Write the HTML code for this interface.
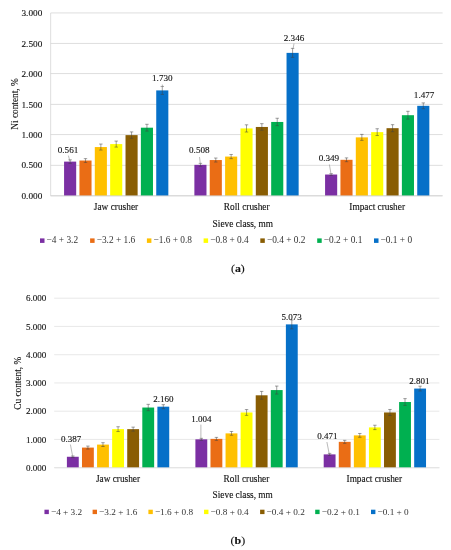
<!DOCTYPE html>
<html><head><meta charset="utf-8"><title>Ni and Cu content by sieve class</title>
<style>
html,body{margin:0;padding:0;background:#fff;}
svg{display:block;font-family:"Liberation Serif","Times New Roman",serif;fill:#111;}
text{stroke:#111;stroke-width:0.12px;}
text.lg{fill:#333;stroke:none;}
</style></head><body>
<svg width="451" height="550" viewBox="0 0 451 550">
<rect width="451" height="550" fill="#fff"/>
<g>
<line x1="50.65" y1="195.80" x2="442.6" y2="195.80" stroke="#d0d0d0" stroke-width="0.7"/>
<text x="42.3" y="198.90" font-size="9.25" text-anchor="end">0.000</text>
<line x1="50.65" y1="165.35" x2="442.6" y2="165.35" stroke="#d0d0d0" stroke-width="0.7"/>
<text x="42.3" y="168.45" font-size="9.25" text-anchor="end">0.500</text>
<line x1="50.65" y1="134.55" x2="442.6" y2="134.55" stroke="#d0d0d0" stroke-width="0.7"/>
<text x="42.3" y="137.65" font-size="9.25" text-anchor="end">1.000</text>
<line x1="50.65" y1="104.40" x2="442.6" y2="104.40" stroke="#d0d0d0" stroke-width="0.7"/>
<text x="42.3" y="107.50" font-size="9.25" text-anchor="end">1.500</text>
<line x1="50.65" y1="73.55" x2="442.6" y2="73.55" stroke="#d0d0d0" stroke-width="0.7"/>
<text x="42.3" y="76.65" font-size="9.25" text-anchor="end">2.000</text>
<line x1="50.65" y1="43.45" x2="442.6" y2="43.45" stroke="#d0d0d0" stroke-width="0.7"/>
<text x="42.3" y="46.55" font-size="9.25" text-anchor="end">2.500</text>
<line x1="50.65" y1="12.95" x2="442.6" y2="12.95" stroke="#d0d0d0" stroke-width="0.7"/>
<text x="42.3" y="16.05" font-size="9.25" text-anchor="end">3.000</text>
<line x1="50.65" y1="13.04" x2="50.65" y2="195.8" stroke="#d0d0d0" stroke-width="0.7"/>
<rect x="64.08" y="161.62" width="12.1" height="34.18" fill="#7B2FA3"/>
<path d="M70.13 159.82V163.42M68.43 159.82h3.4M68.43 163.42h3.4" stroke="#404040" stroke-width="0.5" fill="none"/>
<rect x="79.44" y="160.53" width="12.1" height="35.27" fill="#EA6D15"/>
<path d="M85.49 158.63V162.43M83.79 158.63h3.4M83.79 162.43h3.4" stroke="#404040" stroke-width="0.5" fill="none"/>
<rect x="94.80" y="147.06" width="12.1" height="48.74" fill="#FFC000"/>
<path d="M100.85 144.06V150.06M99.15 144.06h3.4M99.15 150.06h3.4" stroke="#404040" stroke-width="0.5" fill="none"/>
<rect x="110.16" y="144.08" width="12.1" height="51.72" fill="#FFFF00"/>
<path d="M116.21 141.08V147.08M114.51 141.08h3.4M114.51 147.08h3.4" stroke="#404040" stroke-width="0.5" fill="none"/>
<rect x="125.52" y="135.12" width="12.1" height="60.68" fill="#895D03"/>
<path d="M131.57 131.92V138.32M129.87 131.92h3.4M129.87 138.32h3.4" stroke="#404040" stroke-width="0.5" fill="none"/>
<rect x="140.88" y="127.69" width="12.1" height="68.11" fill="#00B050"/>
<path d="M146.93 124.29V131.09M145.23 124.29h3.4M145.23 131.09h3.4" stroke="#404040" stroke-width="0.5" fill="none"/>
<rect x="156.24" y="90.41" width="12.1" height="105.39" fill="#0670C8"/>
<path d="M162.29 86.41V94.41M160.59 86.41h3.4M160.59 94.41h3.4" stroke="#404040" stroke-width="0.5" fill="none"/>
<rect x="194.38" y="164.85" width="12.1" height="30.95" fill="#7B2FA3"/>
<path d="M200.43 163.35V166.35M198.73 163.35h3.4M198.73 166.35h3.4" stroke="#404040" stroke-width="0.5" fill="none"/>
<rect x="209.74" y="160.04" width="12.1" height="35.76" fill="#EA6D15"/>
<path d="M215.79 158.04V162.04M214.09 158.04h3.4M214.09 162.04h3.4" stroke="#404040" stroke-width="0.5" fill="none"/>
<rect x="225.10" y="156.57" width="12.1" height="39.23" fill="#FFC000"/>
<path d="M231.15 154.47V158.67M229.45 154.47h3.4M229.45 158.67h3.4" stroke="#404040" stroke-width="0.5" fill="none"/>
<rect x="240.46" y="128.42" width="12.1" height="67.38" fill="#FFFF00"/>
<path d="M246.51 124.82V132.02M244.81 124.82h3.4M244.81 132.02h3.4" stroke="#404040" stroke-width="0.5" fill="none"/>
<rect x="255.82" y="126.96" width="12.1" height="68.84" fill="#895D03"/>
<path d="M261.87 123.66V130.26M260.17 123.66h3.4M260.17 130.26h3.4" stroke="#404040" stroke-width="0.5" fill="none"/>
<rect x="271.18" y="121.96" width="12.1" height="73.84" fill="#00B050"/>
<path d="M277.23 118.26V125.66M275.53 118.26h3.4M275.53 125.66h3.4" stroke="#404040" stroke-width="0.5" fill="none"/>
<rect x="286.54" y="52.88" width="12.1" height="142.92" fill="#0670C8"/>
<path d="M292.59 48.38V57.38M290.89 48.38h3.4M290.89 57.38h3.4" stroke="#404040" stroke-width="0.5" fill="none"/>
<rect x="325.08" y="174.54" width="12.1" height="21.26" fill="#7B2FA3"/>
<path d="M331.13 173.64V175.44M329.43 173.64h3.4M329.43 175.44h3.4" stroke="#404040" stroke-width="0.5" fill="none"/>
<rect x="340.44" y="159.80" width="12.1" height="36.00" fill="#EA6D15"/>
<path d="M346.49 157.90V161.70M344.79 157.90h3.4M344.79 161.70h3.4" stroke="#404040" stroke-width="0.5" fill="none"/>
<rect x="355.80" y="137.38" width="12.1" height="58.42" fill="#FFC000"/>
<path d="M361.85 134.38V140.38M360.15 134.38h3.4M360.15 140.38h3.4" stroke="#404040" stroke-width="0.5" fill="none"/>
<rect x="371.16" y="132.14" width="12.1" height="63.66" fill="#FFFF00"/>
<path d="M377.21 128.74V135.54M375.51 128.74h3.4M375.51 135.54h3.4" stroke="#404040" stroke-width="0.5" fill="none"/>
<rect x="386.52" y="128.18" width="12.1" height="67.62" fill="#895D03"/>
<path d="M392.57 124.68V131.68M390.87 124.68h3.4M390.87 131.68h3.4" stroke="#404040" stroke-width="0.5" fill="none"/>
<rect x="401.88" y="115.20" width="12.1" height="80.60" fill="#00B050"/>
<path d="M407.93 111.30V119.10M406.23 111.30h3.4M406.23 119.10h3.4" stroke="#404040" stroke-width="0.5" fill="none"/>
<rect x="417.24" y="105.82" width="12.1" height="89.98" fill="#0670C8"/>
<path d="M423.29 102.92V108.72M421.59 102.92h3.4M421.59 108.72h3.4" stroke="#404040" stroke-width="0.5" fill="none"/>
<line x1="50.65" y1="195.8" x2="442.6" y2="195.8" stroke="#d0d0d0" stroke-width="0.7"/>
<text x="68.0" y="152.6" font-size="9.15" text-anchor="middle">0.561</text>
<line x1="68.4" y1="155.6" x2="69.9" y2="161.0" stroke="#8c8c8c" stroke-width="0.6"/>
<text x="162.3" y="81.1" font-size="9.15" text-anchor="middle">1.730</text>
<line x1="162.3" y1="84.5" x2="162.6" y2="87" stroke="#8c8c8c" stroke-width="0.6"/>
<text x="199.3" y="153.0" font-size="9.15" text-anchor="middle">0.508</text>
<line x1="199.5" y1="157" x2="200.3" y2="163.5" stroke="#8c8c8c" stroke-width="0.6"/>
<text x="294.0" y="40.8" font-size="9.15" text-anchor="middle">2.346</text>
<line x1="294.0" y1="43.5" x2="293.1" y2="48.8" stroke="#8c8c8c" stroke-width="0.6"/>
<text x="328.9" y="160.9" font-size="9.15" text-anchor="middle">0.349</text>
<line x1="329.4" y1="164.5" x2="330.9" y2="173.4" stroke="#8c8c8c" stroke-width="0.6"/>
<text x="424.1" y="98.05" font-size="9.15" text-anchor="middle">1.477</text>
<text x="116.0" y="210.1" font-size="9.33" text-anchor="middle">Jaw crusher</text>
<text x="246.7" y="210.1" font-size="9.33" text-anchor="middle">Roll crusher</text>
<text x="377.2" y="210.1" font-size="9.33" text-anchor="middle">Impact crusher</text>
<text x="242.8" y="226.5" font-size="9.33" text-anchor="middle">Sieve class, mm</text>
<text transform="translate(17.8 104) rotate(-90)" font-size="9.33" text-anchor="middle">Ni content, %</text>
<rect x="40.0" y="238.4" width="4.5" height="4.5" fill="#7B2FA3"/>
<text class="lg" x="46.6" y="243.4" font-size="9.33">−4 + 3.2</text>
<rect x="90.1" y="238.4" width="4.5" height="4.5" fill="#EA6D15"/>
<text class="lg" x="96.69999999999999" y="243.4" font-size="9.33">−3.2 + 1.6</text>
<rect x="146.9" y="238.4" width="4.5" height="4.5" fill="#FFC000"/>
<text class="lg" x="153.5" y="243.4" font-size="9.33">−1.6 + 0.8</text>
<rect x="203.6" y="238.4" width="4.5" height="4.5" fill="#FFFF00"/>
<text class="lg" x="210.2" y="243.4" font-size="9.33">−0.8 + 0.4</text>
<rect x="260.3" y="238.4" width="4.5" height="4.5" fill="#895D03"/>
<text class="lg" x="266.90000000000003" y="243.4" font-size="9.33">−0.4 + 0.2</text>
<rect x="317.2" y="238.4" width="4.5" height="4.5" fill="#00B050"/>
<text class="lg" x="323.8" y="243.4" font-size="9.33">−0.2 + 0.1</text>
<rect x="374.0" y="238.4" width="4.5" height="4.5" fill="#0670C8"/>
<text class="lg" x="380.6" y="243.4" font-size="9.33">−0.1 + 0</text>
<text transform="translate(237.9 271.7) scale(1.07 1)" font-size="11.0" text-anchor="middle">(<tspan font-weight="bold">a</tspan>)</text>
</g>
<g>
<line x1="54.2" y1="467.70" x2="439.4" y2="467.70" stroke="#e0e0e0" stroke-width="0.7"/>
<text x="46.4" y="470.80" font-size="9.05" text-anchor="end">0.000</text>
<line x1="54.2" y1="439.45" x2="439.4" y2="439.45" stroke="#e0e0e0" stroke-width="0.7"/>
<text x="46.4" y="442.55" font-size="9.05" text-anchor="end">1.000</text>
<line x1="54.2" y1="411.20" x2="439.4" y2="411.20" stroke="#e0e0e0" stroke-width="0.7"/>
<text x="46.4" y="414.30" font-size="9.05" text-anchor="end">2.000</text>
<line x1="54.2" y1="382.95" x2="439.4" y2="382.95" stroke="#e0e0e0" stroke-width="0.7"/>
<text x="46.4" y="386.05" font-size="9.05" text-anchor="end">3.000</text>
<line x1="54.2" y1="354.70" x2="439.4" y2="354.70" stroke="#e0e0e0" stroke-width="0.7"/>
<text x="46.4" y="357.80" font-size="9.05" text-anchor="end">4.000</text>
<line x1="54.2" y1="326.45" x2="439.4" y2="326.45" stroke="#e0e0e0" stroke-width="0.7"/>
<text x="46.4" y="329.55" font-size="9.05" text-anchor="end">5.000</text>
<line x1="54.2" y1="298.20" x2="439.4" y2="298.20" stroke="#e0e0e0" stroke-width="0.7"/>
<text x="46.4" y="301.30" font-size="9.05" text-anchor="end">6.000</text>
<rect x="66.90" y="456.77" width="11.85" height="10.93" fill="#7B2FA3"/>
<path d="M72.83 455.97V457.57M71.12 455.97h3.4M71.12 457.57h3.4" stroke="#404040" stroke-width="0.5" fill="none"/>
<rect x="81.98" y="447.59" width="11.85" height="20.11" fill="#EA6D15"/>
<path d="M87.91 446.09V449.09M86.20 446.09h3.4M86.20 449.09h3.4" stroke="#404040" stroke-width="0.5" fill="none"/>
<rect x="97.06" y="444.59" width="11.85" height="23.11" fill="#FFC000"/>
<path d="M102.98 442.69V446.49M101.28 442.69h3.4M101.28 446.49h3.4" stroke="#404040" stroke-width="0.5" fill="none"/>
<rect x="112.14" y="429.14" width="11.85" height="38.56" fill="#FFFF00"/>
<path d="M118.07 426.74V431.54M116.37 426.74h3.4M116.37 431.54h3.4" stroke="#404040" stroke-width="0.5" fill="none"/>
<rect x="127.22" y="429.14" width="11.85" height="38.56" fill="#895D03"/>
<path d="M133.15 427.14V431.14M131.45 427.14h3.4M131.45 431.14h3.4" stroke="#404040" stroke-width="0.5" fill="none"/>
<rect x="142.30" y="407.53" width="11.85" height="60.17" fill="#00B050"/>
<path d="M148.23 404.33V410.73M146.53 404.33h3.4M146.53 410.73h3.4" stroke="#404040" stroke-width="0.5" fill="none"/>
<rect x="157.38" y="406.68" width="11.85" height="61.02" fill="#0670C8"/>
<path d="M163.31 404.68V408.68M161.61 404.68h3.4M161.61 408.68h3.4" stroke="#404040" stroke-width="0.5" fill="none"/>
<rect x="195.40" y="439.34" width="11.85" height="28.36" fill="#7B2FA3"/>
<path d="M201.33 438.34V440.34M199.63 438.34h3.4M199.63 440.34h3.4" stroke="#404040" stroke-width="0.5" fill="none"/>
<rect x="210.48" y="438.88" width="11.85" height="28.81" fill="#EA6D15"/>
<path d="M216.41 437.38V440.38M214.71 437.38h3.4M214.71 440.38h3.4" stroke="#404040" stroke-width="0.5" fill="none"/>
<rect x="225.56" y="433.38" width="11.85" height="34.32" fill="#FFC000"/>
<path d="M231.49 431.48V435.28M229.79 431.48h3.4M229.79 435.28h3.4" stroke="#404040" stroke-width="0.5" fill="none"/>
<rect x="240.64" y="412.47" width="11.85" height="55.23" fill="#FFFF00"/>
<path d="M246.57 409.57V415.37M244.87 409.57h3.4M244.87 415.37h3.4" stroke="#404040" stroke-width="0.5" fill="none"/>
<rect x="255.72" y="395.30" width="11.85" height="72.40" fill="#895D03"/>
<path d="M261.64 391.40V399.20M259.94 391.40h3.4M259.94 399.20h3.4" stroke="#404040" stroke-width="0.5" fill="none"/>
<rect x="270.80" y="390.07" width="11.85" height="77.63" fill="#00B050"/>
<path d="M276.73 386.07V394.07M275.03 386.07h3.4M275.03 394.07h3.4" stroke="#404040" stroke-width="0.5" fill="none"/>
<rect x="285.88" y="324.39" width="11.85" height="143.31" fill="#0670C8"/>
<path d="M291.81 319.89V328.89M290.11 319.89h3.4M290.11 328.89h3.4" stroke="#404040" stroke-width="0.5" fill="none"/>
<rect x="323.70" y="454.39" width="11.85" height="13.31" fill="#7B2FA3"/>
<path d="M329.62 453.39V455.39M327.93 453.39h3.4M327.93 455.39h3.4" stroke="#404040" stroke-width="0.5" fill="none"/>
<rect x="338.78" y="441.85" width="11.85" height="25.85" fill="#EA6D15"/>
<path d="M344.70 440.35V443.35M343.00 440.35h3.4M343.00 443.35h3.4" stroke="#404040" stroke-width="0.5" fill="none"/>
<rect x="353.86" y="435.38" width="11.85" height="32.32" fill="#FFC000"/>
<path d="M359.79 433.48V437.28M358.09 433.48h3.4M358.09 437.28h3.4" stroke="#404040" stroke-width="0.5" fill="none"/>
<rect x="368.94" y="427.42" width="11.85" height="40.28" fill="#FFFF00"/>
<path d="M374.87 425.22V429.62M373.17 425.22h3.4M373.17 429.62h3.4" stroke="#404040" stroke-width="0.5" fill="none"/>
<rect x="384.02" y="412.47" width="11.85" height="55.23" fill="#895D03"/>
<path d="M389.94 409.47V415.47M388.25 409.47h3.4M388.25 415.47h3.4" stroke="#404040" stroke-width="0.5" fill="none"/>
<rect x="399.10" y="402.02" width="11.85" height="65.68" fill="#00B050"/>
<path d="M405.03 398.62V405.42M403.33 398.62h3.4M403.33 405.42h3.4" stroke="#404040" stroke-width="0.5" fill="none"/>
<rect x="414.18" y="388.57" width="11.85" height="79.13" fill="#0670C8"/>
<path d="M420.11 386.17V390.97M418.41 386.17h3.4M418.41 390.97h3.4" stroke="#404040" stroke-width="0.5" fill="none"/>
<line x1="54.2" y1="467.7" x2="439.4" y2="467.7" stroke="#e0e0e0" stroke-width="0.7"/>
<text x="71.1" y="441.5" font-size="9.0" text-anchor="middle">0.387</text>
<line x1="70.4" y1="444.5" x2="72.6" y2="456" stroke="#8c8c8c" stroke-width="0.6"/>
<text x="163.4" y="402.0" font-size="9.0" text-anchor="middle">2.160</text>
<text x="201.4" y="421.6" font-size="9.0" text-anchor="middle">1.004</text>
<line x1="200.9" y1="424.6" x2="200.9" y2="438.5" stroke="#8c8c8c" stroke-width="0.6"/>
<text x="291.5" y="319.8" font-size="9.0" text-anchor="middle">5.073</text>
<text x="327.3" y="438.8" font-size="9.0" text-anchor="middle">0.471</text>
<line x1="326.9" y1="442" x2="329.2" y2="453.8" stroke="#8c8c8c" stroke-width="0.6"/>
<text x="419.4" y="383.8" font-size="9.0" text-anchor="middle">2.801</text>
<text x="118.0" y="481.5" font-size="9.3" text-anchor="middle">Jaw crusher</text>
<text x="246.45" y="481.5" font-size="9.3" text-anchor="middle">Roll crusher</text>
<text x="374.3" y="481.5" font-size="9.3" text-anchor="middle">Impact crusher</text>
<text x="242.7" y="498.2" font-size="9.3" text-anchor="middle">Sieve class, mm</text>
<text transform="translate(21.4 383.3) rotate(-90)" font-size="9.3" text-anchor="middle">Cu content, %</text>
<rect x="44.45" y="509.7" width="4.4" height="4.4" fill="#7B2FA3"/>
<text class="lg" x="50.95" y="514.9" font-size="9.25">−4 + 3.2</text>
<rect x="92.6" y="509.7" width="4.4" height="4.4" fill="#EA6D15"/>
<text class="lg" x="99.1" y="514.9" font-size="9.25">−3.2 + 1.6</text>
<rect x="148.4" y="509.7" width="4.4" height="4.4" fill="#FFC000"/>
<text class="lg" x="154.9" y="514.9" font-size="9.25">−1.6 + 0.8</text>
<rect x="204.05" y="509.7" width="4.4" height="4.4" fill="#FFFF00"/>
<text class="lg" x="210.55" y="514.9" font-size="9.25">−0.8 + 0.4</text>
<rect x="260.1" y="509.7" width="4.4" height="4.4" fill="#895D03"/>
<text class="lg" x="266.6" y="514.9" font-size="9.25">−0.4 + 0.2</text>
<rect x="315.2" y="509.7" width="4.4" height="4.4" fill="#00B050"/>
<text class="lg" x="321.7" y="514.9" font-size="9.25">−0.2 + 0.1</text>
<rect x="371.0" y="509.7" width="4.4" height="4.4" fill="#0670C8"/>
<text class="lg" x="377.5" y="514.9" font-size="9.25">−0.1 + 0</text>
<text transform="translate(237.9 543.9) scale(1.09 1)" font-size="11.0" text-anchor="middle">(<tspan font-weight="bold">b</tspan>)</text>
</g>
</svg>
</body></html>
